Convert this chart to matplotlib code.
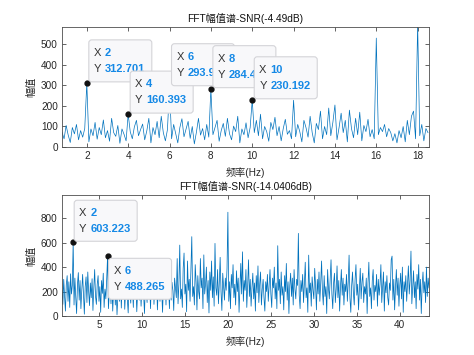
import numpy as np
import matplotlib
matplotlib.use('Agg')
import matplotlib.pyplot as plt
import matplotlib.transforms as mtransforms
from matplotlib.patches import FancyBboxPatch

plt.rcParams['font.family'] = ['Liberation Sans', 'Noto Sans CJK SC']

# верхний спектр: 0.8 .. 18.5 Гц, шаг 0.1
f1_start, f1_step = 0.8, 0.1
amp1 = [
    72, 40, 105, 58, 22, 95, 64, 110, 35, 80,
    48, 90, 312.701, 25, 88, 55, 120, 38, 95, 60,
    132, 45, 80, 28, 140, 70, 52, 105, 18, 88,
    62, 30, 160.393, 75, 40, 98, 130, 55, 85, 112,
    35, 78, 140, 20, 95, 60, 125, 45, 150, 70,
    30, 85, 293.947, 40, 110, 65, 20, 95, 138, 50,
    88, 125, 42, 100, 15, 72, 140, 58, 90, 35,
    110, 48, 284.436, 60, 95, 130, 28, 80, 115, 52,
    140, 65, 35, 102, 75, 150, 20, 88, 60, 118,
    45, 95, 230.192, 70, 130, 55, 160, 40, 100, 75,
    28, 120, 85, 145, 55, 100, 30, 90, 135, 62,
    80, 40, 228, 50, 110, 75, 25, 130, 95, 48,
    150, 70, 20, 115, 85, 175, 40, 100, 60, 190,
    55, 120, 205, 35, 95, 165, 70, 130, 25, 180,
    90, 45, 140, 60, 170, 30, 105, 75, 135, 50,
    85, 40, 531, 60, 95, 75, 110, 50, 90, 70,
    30, 65, 20, 80, 45, 100, 25, 130, 60, 150,
    175, 40, 600, 55, 110, 30, 90, 70,
]

# нижний спектр: 0.7 .. 43.4 Гц, шаг 0.1
f2_start, f2_step = 0.7, 0.1
amp2 = [
    210, 95, 300, 160, 40, 255, 330, 120, 280, 70,
    345, 180, 250, 603.223, 90, 310, 150, 20, 260, 355,
    130, 290, 60, 210, 340, 175, 15, 240, 320, 110,
    360, 200, 85, 270, 150, 305, 45, 230, 380, 160,
    95, 260, 330, 120, 240, 30, 290, 185, 350, 70,
    220, 140, 300, 488.265, 60, 180, 250, 100, 275, 40,
    195, 310, 90, 230, 10, 160, 280, 120, 350, 65,
    240, 175, 330, 55, 210, 290, 140, 25, 260, 190,
    105, 300, 220, 70, 360, 150, 250, 35, 195, 320,
    130, 270, 80, 230, 340, 165, 20, 280, 210, 110,
    390, 150, 245, 60, 300, 185, 420, 95, 260, 140,
    330, 50, 215, 280, 120, 370, 200, 30, 250, 160,
    300, 90, 400, 180, 240, 60, 350, 130, 275, 205,
    45, 310, 230, 150, 470, 100, 260, 580, 140, 220,
    70, 390, 515, 180, 260, 35, 450, 210, 300, 120,
    380, 649, 160, 240, 90, 420, 280, 50, 330, 200,
    140, 470, 230, 310, 60, 500, 180, 260, 400, 110,
    290, 25, 360, 210, 450, 150, 320, 80, 594, 230,
    170, 380, 100, 270, 480, 200, 45, 350, 240, 130,
    310, 210, 390, 849, 120, 280, 60, 340, 230, 420,
    150, 260, 90, 370, 200, 310, 30, 240, 430, 180,
    525, 120, 290, 210, 380, 70, 250, 460, 160, 300,
    80, 230, 350, 140, 270, 40, 330, 190, 410, 110,
    260, 360, 90, 220, 300, 150, 40, 280, 200, 340,
    120, 250, 380, 180, 70, 310, 230, 400, 140, 270,
    60, 575, 210, 300, 100, 360, 170, 240, 50, 330,
    200, 430, 130, 280, 20, 250, 350, 160, 310, 90,
    380, 220, 140, 300, 250, 676, 170, 60, 290, 200,
    340, 110, 260, 440, 150, 230, 30, 498, 190, 270,
    80, 320, 210, 140, 390, 250, 50, 300, 180, 360,
    120, 270, 450, 200, 90, 330, 160, 240, 20, 380,
    230, 140, 300, 460, 180, 60, 270, 350, 110, 220,
    410, 150, 290, 40, 240, 380, 170, 310, 90, 260,
    200, 340, 120, 280, 498, 150, 30, 250, 360, 190,
    90, 300, 420, 170, 260, 50, 230, 390, 140, 280,
    350, 110, 240, 180, 310, 20, 270, 440, 160, 230,
    60, 290, 380, 130, 250, 200, 340, 80, 300, 170,
    260, 420, 110, 230, 360, 40, 280, 190, 330, 150,
    90, 270, 210, 460, 490, 130, 300, 50, 240, 380,
    170, 310, 80, 250, 350, 140, 400, 30, 280, 200,
    330, 120, 260, 410, 180, 290, 531, 100, 230, 370,
    150, 280, 60, 340, 220, 420, 130, 300, 20, 250,
    360, 190, 280, 110, 400, 160, 310, 230,
]

tips1_x = [2, 4, 6, 8, 10]
tips1_y = [312.701, 160.393, 293.947, 284.436, 230.192]
# видимая часть подписей (6 и 8 перекрыты соседними подсказками)
tips1_lbl = ['312.701', '160.393', '293.9', '284.4', '230.192']
tips2_x = [2, 6]
tips2_y = [603.223, 488.265]
tips2_lbl = ['603.223', '488.265']

line_color = '#0072BD'
tip_blue = '#1589E6'
ax_color = '#262626'

freq1 = f1_start + f1_step * np.arange(len(amp1))
freq2 = f2_start + f2_step * np.arange(len(amp2))

fig = plt.figure(figsize=(4.74, 3.55), dpi=100)
ax1 = fig.add_axes([0.1308, 0.5859, 0.7743, 0.338])
ax2 = fig.add_axes([0.1308, 0.1099, 0.7743, 0.3408])


def style_axes(ax, title):
    ax.set_title(title, fontsize=7.3, color='#111111', pad=3.5)
    ax.set_xlabel('频率(Hz)', fontsize=7.3, color=ax_color, labelpad=4.5)
    ax.set_ylabel('幅值', fontsize=7.3, color=ax_color, labelpad=3)
    ax.tick_params(direction='in', length=3, width=0.5, colors=ax_color,
                   labelsize=7.2, top=True, right=True, pad=3)
    for s in ax.spines.values():
        s.set_linewidth(0.6)
        s.set_color('#4D4D4D')


def datatip(ax, x, y, lbl, dx, dy, z, w=63, h=42):
    # рамка подсказки в пикселях относительно точки
    trans = mtransforms.IdentityTransform() + mtransforms.ScaledTranslation(x, y, ax.transData)
    box = FancyBboxPatch((dx, dy), w, h, boxstyle='round,pad=0,rounding_size=3',
                         fc='#F8F8FA', ec='#D4D4D8', lw=0.8, transform=trans,
                         clip_on=False, zorder=z)
    ax.add_patch(box)
    parts = [(5, 13, 'X', '#333333', 'normal'),
             (16, 13, str(x), tip_blue, 'bold'),
             (5, 29, 'Y', '#333333', 'normal'),
             (16, 29, lbl, tip_blue, 'bold')]
    for px, py, s, c, fw in parts:
        t = ax.text(dx + px, dy + h - py, s, transform=trans, va='center', ha='left',
                    fontsize=8, color=c, fontweight=fw, zorder=z + 0.1)
        t.set_clip_path(box)


ax1.plot(freq1, amp1, color=line_color, lw=0.5)
ax1.set_xlim(0.8, 18.55)
ax1.set_ylim(0, 585)
ax1.set_xticks(np.arange(2, 19, 2))
ax1.set_yticks(np.arange(0, 501, 100))
style_axes(ax1, 'FFT幅值谱-SNR(-4.49dB)')
ax1.plot(tips1_x, tips1_y, 'o', color='#111111', ms=3.5, zorder=4)
for k in range(len(tips1_x)):
    datatip(ax1, tips1_x[k], tips1_y[k], tips1_lbl[k], 2, 1, 5 + k)

ax2.plot(freq2, amp2, color=line_color, lw=0.55)
ax2.set_xlim(0.7, 43.4)
ax2.set_ylim(0, 990)
ax2.set_xticks(np.arange(5, 41, 5))
ax2.set_yticks(np.arange(0, 801, 200))
style_axes(ax2, 'FFT幅值谱-SNR(-14.0406dB)')
ax2.plot(tips2_x, tips2_y, 'o', color='#111111', ms=3.5, zorder=4)
datatip(ax2, tips2_x[0], tips2_y[0], tips2_lbl[0], 1, 1, 5, h=41)
datatip(ax2, tips2_x[1], tips2_y[1], tips2_lbl[1], 1, -43, 6, h=41)

fig.savefig('out.png', dpi=100)
